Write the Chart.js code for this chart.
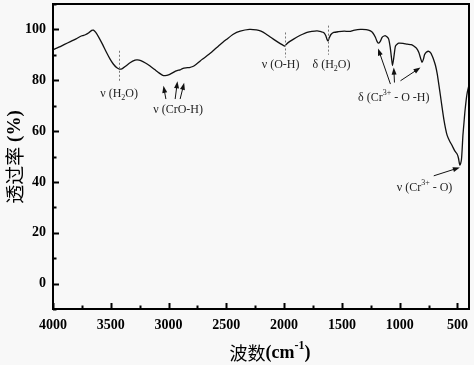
<!DOCTYPE html>
<html>
<head>
<meta charset="utf-8">
<script src="https://cdn.jsdelivr.net/npm/chart.js@4/dist/chart.umd.min.js"></script>
<style>
  html, body { margin: 0; padding: 0; background: #f8f8f8; }
  canvas { display: block; }
</style>
</head>
<body>
<canvas id="irChart" width="474" height="365"></canvas>
<script>
// wavenumber (cm-1) and transmittance (%)
const wavenumbers = [
  4000, 3950, 3900, 3850, 3800, 3760, 3740, 3720, 3690, 3665, 3650, 3630, 3600, 3570, 3540, 3506,
  3480, 3450, 3425, 3400, 3370, 3330, 3290, 3270, 3240, 3200, 3160, 3120, 3080, 3050, 3030, 3000,
  2970, 2940, 2920, 2900, 2880, 2850, 2820, 2790, 2760, 2726, 2700, 2650, 2600, 2550, 2500, 2440,
  2380, 2300, 2240, 2200, 2160, 2120, 2080, 2040, 2010, 1996, 1980, 1950, 1918, 1880, 1840, 1802,
  1760, 1715, 1680, 1658, 1640, 1628, 1620, 1610, 1595, 1571, 1530, 1480, 1433, 1400, 1340, 1290,
  1253, 1230, 1210, 1195, 1181, 1168, 1152, 1135, 1123, 1108, 1095, 1082, 1070, 1062, 1052, 1042,
  1036, 1020, 1008, 970, 935, 900, 878, 855, 834, 818, 806, 795, 785, 770, 748, 730,
  719, 705, 690, 675, 660, 647, 632, 618, 603, 589, 570, 545, 523, 502, 492, 484,
  479, 472, 465, 459, 453, 444, 436, 425, 415, 402, 400
];
const transmittance = [
  92.0, 93.0, 94.1, 95.2, 96.3, 97.3, 97.6, 97.9, 98.7, 99.6, 99.7, 98.8, 96.6, 94.0, 91.2, 88.3,
  86.5, 85.0, 84.4, 84.6, 85.6, 87.0, 87.9, 88.0, 87.7, 86.8, 85.6, 84.2, 82.8, 81.9, 81.8, 82.1,
  82.8, 83.6, 83.9, 84.1, 84.6, 84.9, 85.0, 85.4, 86.3, 87.6, 88.5, 90.2, 92.2, 94.2, 96.0, 98.1,
  99.3, 100.0, 99.8, 99.3, 98.3, 97.0, 95.8, 94.6, 93.8, 93.4, 94.2, 95.3, 96.2, 97.2, 98.1, 98.8,
  99.2, 99.4, 99.1, 98.8, 97.6, 96.0, 95.5, 96.6, 98.0, 98.8, 99.1, 99.3, 99.2, 99.6, 100.0, 99.9,
  99.4, 98.5, 96.9, 95.2, 94.6, 95.3, 96.9, 97.4, 97.5, 97.0, 96.2, 93.0, 88.5, 85.8, 88.5, 92.0,
  93.5, 94.3, 94.6, 94.5, 94.2, 94.0, 93.5, 92.6, 90.9, 88.5, 87.0, 88.2, 90.0, 91.0, 91.4, 90.7,
  89.6, 88.0, 85.8, 82.5, 78.0, 73.9, 69.0, 64.7, 61.0, 58.3, 56.3, 54.2, 52.2, 50.9, 49.5, 47.5,
  46.6, 47.3, 48.9, 53.0, 58.1, 63.0, 67.3, 72.0, 75.2, 77.8, 78.0
];

const xTicks = [4000, 3500, 3000, 2500, 2000, 1500, 1000, 500];
const xMinorTicks = [3750, 3250, 2750, 2250, 1750, 1250, 750];
const yTicks = [0, 20, 40, 60, 80, 100];
const yMinorTicks = [-10, 10, 30, 50, 70, 90, 110];

// band labels: [x, y, text parts]  ('_' = subscript, '^' = superscript)
const bandLabels = [
  [3428, 74.8, [['ν (H'], ['2', '_'], ['O)']]],
  [2917, 68.2, [['ν (CrO-H)']]],
  [2030, 86.0, [['ν (O-H)']]],
  [1590, 86.0, [['δ (H'], ['2', '_'], ['O)']]],
  [1051, 73.0, [['δ (Cr'], ['3+', '^'], [' - O -H)']]],
  [785, 37.8, [['ν (Cr'], ['3+', '^'], [' - O)']]]
];
// dashed marker lines: [x, yFrom, yTo]
const bandMarkers = [
  [3425, 91.6, 79.1],
  [1996, 98.8, 89.0],
  [1620, 101.5, 90.0]
];
// arrows: [xTail, yTail, xHead, yHead]
const bandArrows = [
  [3023, 72.6, 3044, 77.8],
  [2943, 72.6, 2923, 79.6],
  [2900, 72.6, 2865, 79.0],
  [1080, 78.5, 1187, 92.5],
  [1045, 79.1, 1051, 85.0],
  [993, 79.8, 820, 85.0],
  [705, 42.4, 479, 45.7]
];

const SERIF = '"Liberation Serif", "DejaVu Serif", serif';
const CJK = '"Noto Sans CJK SC", "Noto Sans CJK JP", sans-serif';

// part = [text, '_' | '^' | '', family, weight]
function partFont(p, size, bold) {
  const weight = p[3] || (bold ? 'bold' : 'normal');
  return weight + ' ' + (p[1] ? Math.round(size * 0.65) : size) + 'px ' + (p[2] || SERIF);
}

function drawParts(ctx, parts, cx, cy, size, bold) {
  let total = 0;
  parts.forEach(p => {
    ctx.font = partFont(p, size, bold);
    total += ctx.measureText(p[0]).width;
  });
  let x = cx - total / 2;
  ctx.textAlign = 'left';
  ctx.textBaseline = 'middle';
  parts.forEach(p => {
    ctx.font = partFont(p, size, bold);
    let dy = 0;
    if (p[1] === '_') dy = size * 0.35;
    if (p[1] === '^') dy = -size * 0.4;
    ctx.fillText(p[0], x, cy + dy);
    x += ctx.measureText(p[0]).width;
  });
}

function arrow(ctx, x1, y1, x2, y2) {
  const a = Math.atan2(y2 - y1, x2 - x1);
  const len = 7, half = 2.5;
  ctx.beginPath();
  ctx.moveTo(x1, y1);
  ctx.lineTo(x2 - Math.cos(a) * len * 0.8, y2 - Math.sin(a) * len * 0.8);
  ctx.stroke();
  ctx.beginPath();
  ctx.moveTo(x2, y2);
  ctx.lineTo(x2 - Math.cos(a) * len - Math.sin(a) * half, y2 - Math.sin(a) * len + Math.cos(a) * half);
  ctx.lineTo(x2 - Math.cos(a) * len + Math.sin(a) * half, y2 - Math.sin(a) * len - Math.cos(a) * half);
  ctx.closePath();
  ctx.fill();
}

const decorations = {
  id: 'decorations',
  afterDraw(chart) {
    const ctx = chart.ctx;
    const area = chart.chartArea;
    const xs = chart.scales.x, ys = chart.scales.y;
    ctx.save();

    // frame and inward ticks
    ctx.strokeStyle = '#000';
    ctx.lineWidth = 2;
    ctx.strokeRect(area.left, area.top, area.right - area.left, area.bottom - area.top);
    ctx.beginPath();
    xTicks.concat(xMinorTicks).forEach(v => {
      const px = Math.round(xs.getPixelForValue(v)) + 0.5;
      const len = xTicks.includes(v) ? 6 : 3.5;
      ctx.moveTo(px, area.bottom);
      ctx.lineTo(px, area.bottom - len);
    });
    yTicks.concat(yMinorTicks).forEach(v => {
      const py = Math.round(ys.getPixelForValue(v)) + 0.5;
      const len = yTicks.includes(v) ? 6 : 3.5;
      ctx.moveTo(area.left, py);
      ctx.lineTo(area.left + len, py);
    });
    ctx.stroke();

    // dashed markers
    ctx.strokeStyle = '#777';
    ctx.lineWidth = 1;
    ctx.setLineDash([2, 2]);
    bandMarkers.forEach(m => {
      const px = Math.round(xs.getPixelForValue(m[0])) + 0.5;
      ctx.beginPath();
      ctx.moveTo(px, ys.getPixelForValue(m[1]));
      ctx.lineTo(px, ys.getPixelForValue(m[2]));
      ctx.stroke();
    });
    ctx.setLineDash([]);

    // arrows
    ctx.strokeStyle = '#111';
    ctx.fillStyle = '#111';
    ctx.lineWidth = 1;
    bandArrows.forEach(a => {
      arrow(ctx, xs.getPixelForValue(a[0]), ys.getPixelForValue(a[1]),
        xs.getPixelForValue(a[2]), ys.getPixelForValue(a[3]));
    });

    // band labels
    ctx.fillStyle = '#222';
    bandLabels.forEach(l => {
      drawParts(ctx, l[2], xs.getPixelForValue(l[0]), ys.getPixelForValue(l[1]), 12, false);
    });

    // axis titles
    ctx.fillStyle = '#000';
    drawParts(ctx, [['波数', '', CJK, 'normal'], ['(cm'], ['-1', '^'], [')']],
      (area.left + area.right) / 2 + 9, 353, 18, true);
    ctx.translate(15, 157);
    ctx.rotate(-Math.PI / 2);
    drawParts(ctx, [['透过率', '', CJK, 'normal'], [' (%)']], 0, 0, 19, true);
    ctx.restore();
  }
};

function noPadding(s) {
  s.paddingTop = 0;
  s.paddingBottom = 0;
  s.paddingLeft = 0;
  s.paddingRight = 0;
}

new Chart(document.getElementById('irChart'), {
  type: 'line',
  data: {
    datasets: [{
      data: wavenumbers.map((w, i) => ({ x: w, y: transmittance[i] })),
      borderColor: '#111',
      borderWidth: 1.3,
      pointRadius: 0,
      tension: 0.2,
      fill: false
    }]
  },
  options: {
    responsive: false,
    animation: false,
    devicePixelRatio: 1,
    layout: { padding: { top: 4, right: 5, left: 0, bottom: 0 } },
    plugins: { legend: { display: false }, tooltip: { enabled: false } },
    scales: {
      x: {
        type: 'linear',
        reverse: true,
        min: 400,
        max: 4000,
        afterBuildTicks: s => { s.ticks = xTicks.map(v => ({ value: v })); },
        afterFit: s => { s.height = 56; noPadding(s); },
        grid: { display: false, drawTicks: false },
        border: { display: false },
        ticks: {
          color: '#000',
          padding: 8,
          maxRotation: 0,
          autoSkip: false,
          callback: v => String(v),
          font: { family: SERIF, size: 14, weight: 'bold' }
        }
      },
      y: {
        min: -10,
        max: 110,
        afterBuildTicks: s => { s.ticks = yTicks.map(v => ({ value: v })); },
        afterFit: s => { s.width = 53; noPadding(s); },
        grid: { display: false, drawTicks: false },
        border: { display: false },
        ticks: {
          color: '#000',
          padding: 7,
          callback: v => String(v),
          font: { family: SERIF, size: 14, weight: 'bold' }
        }
      }
    }
  },
  plugins: [decorations]
});
</script>
</body>
</html>
